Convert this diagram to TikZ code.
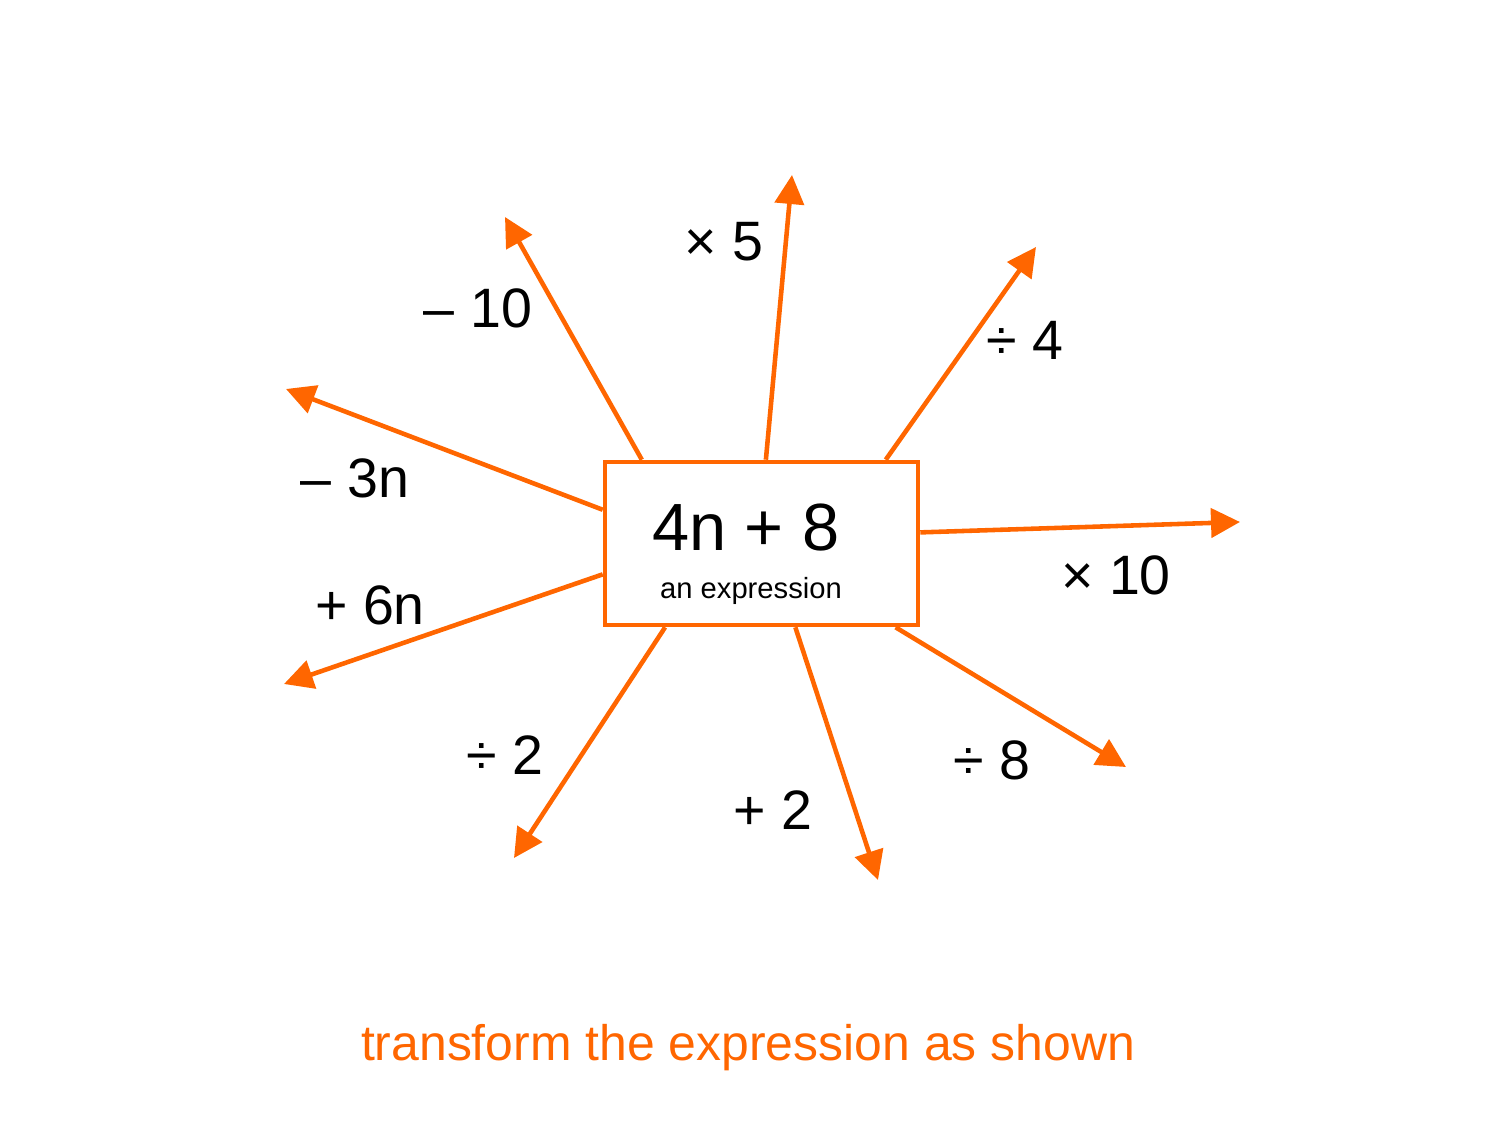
\documentclass[tikz,border=0pt]{standalone}
\usepackage{fontspec}
\setmainfont{Liberation Sans}
\usetikzlibrary{arrows.meta}
\definecolor{orng}{HTML}{FF6600}
\tikzset{
    opline/.style={draw=orng, line width=1.3pt, -{Triangle[length=2.9mm, width=2.9mm]}},
    oplabel/.style={font=\fontsize{15.8}{18}\selectfont},
}
\begin{document}
\begin{tikzpicture}
    \useasboundingbox (0,0) rectangle (15,11.25);
    \node[draw=orng, line width=1.3pt, minimum width=3.13cm, minimum height=1.63cm, inner sep=0pt] (expr) at (7.615,5.815) {};
    \node[font=\fontsize{19}{22}\selectfont] (exprtext) at (7.46,5.97) {4n + 8};
    \node[font=\fontsize{8.3}{10}\selectfont] (exprnote) at (7.51,5.34) {an expression};
    \foreach \i/\a/\x/\y in {1/145.7/5.05/9.08, 2/87.5/7.92/9.50, 3/34.1/10.36/8.78,
                             4/4.9/12.40/6.03, 5/-32.5/11.26/3.58, 6/-68.9/8.78/2.45,
                             7/221/5.14/2.67, 8/191.4/2.84/4.41, 9/168.6/2.86/7.36} {
        \coordinate (tip\i) at (\x,\y);
        \draw[opline] (expr.\a) -- (tip\i);
    }
    \node[oplabel] (lab1) at (4.78,8.17) {– 10};
    \node[oplabel] (lab2) at (7.24,8.83) {× 5};
    \node[oplabel] (lab3) at (10.25,7.85) {÷ 4};
    \node[oplabel] (lab4) at (11.16,5.50) {× 10};
    \node[oplabel] (lab5) at (9.92,3.65) {÷ 8};
    \node[oplabel] (lab6) at (7.73,3.15) {+ 2};
    \node[oplabel] (lab7) at (5.05,3.70) {÷ 2};
    \node[oplabel] (lab8) at (3.70,5.20) {+ 6n};
    \node[oplabel] (lab9) at (3.55,6.47) {– 3n};
    \node[text=orng, font=\fontsize{14.2}{17}\selectfont] (caption) at (7.48,0.77) {transform the expression as shown};
\end{tikzpicture}
\end{document}
